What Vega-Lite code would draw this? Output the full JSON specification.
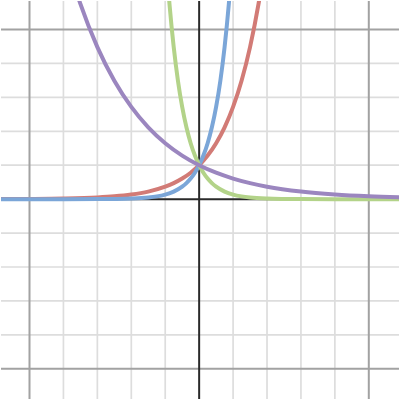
{
  "$schema": "https://vega.github.io/schema/vega-lite/v6.json",
  "width": 400,
  "height": 400,
  "autosize": {"type": "fit", "contains": "padding"},
  "padding": 0,
  "background": "white",
  "config": {"view": {"stroke": null}},
  "datasets": {
    "grid": [
      {"v": -5, "kind": "major"}, {"v": -4, "kind": "minor"}, {"v": -3, "kind": "minor"},
      {"v": -2, "kind": "minor"}, {"v": -1, "kind": "minor"}, {"v": 0, "kind": "axis"},
      {"v": 1, "kind": "minor"}, {"v": 2, "kind": "minor"}, {"v": 3, "kind": "minor"},
      {"v": 4, "kind": "minor"}, {"v": 5, "kind": "major"}
    ],
    "curves": [
      {"f": "e^x", "x": -6, "y": 0.0025}, {"f": "e^x", "x": -5, "y": 0.0067},
      {"f": "e^x", "x": -4, "y": 0.0183}, {"f": "e^x", "x": -3, "y": 0.0498},
      {"f": "e^x", "x": -2.5, "y": 0.0821}, {"f": "e^x", "x": -2, "y": 0.1353},
      {"f": "e^x", "x": -1.5, "y": 0.2231}, {"f": "e^x", "x": -1, "y": 0.3679},
      {"f": "e^x", "x": -0.75, "y": 0.4724}, {"f": "e^x", "x": -0.5, "y": 0.6065},
      {"f": "e^x", "x": -0.25, "y": 0.7788}, {"f": "e^x", "x": 0, "y": 1},
      {"f": "e^x", "x": 0.25, "y": 1.284}, {"f": "e^x", "x": 0.5, "y": 1.6487},
      {"f": "e^x", "x": 0.75, "y": 2.117}, {"f": "e^x", "x": 1, "y": 2.7183},
      {"f": "e^x", "x": 1.25, "y": 3.4903}, {"f": "e^x", "x": 1.5, "y": 4.4817},
      {"f": "e^x", "x": 1.75, "y": 5.7546}, {"f": "e^x", "x": 2, "y": 7.389},

      {"f": "e^(2x)", "x": -6, "y": 0}, {"f": "e^(2x)", "x": -4, "y": 0.0003},
      {"f": "e^(2x)", "x": -3, "y": 0.0025}, {"f": "e^(2x)", "x": -2.5, "y": 0.0067},
      {"f": "e^(2x)", "x": -2, "y": 0.0183}, {"f": "e^(2x)", "x": -1.5, "y": 0.0498},
      {"f": "e^(2x)", "x": -1.25, "y": 0.0821}, {"f": "e^(2x)", "x": -1, "y": 0.1353},
      {"f": "e^(2x)", "x": -0.75, "y": 0.2231}, {"f": "e^(2x)", "x": -0.5, "y": 0.3679},
      {"f": "e^(2x)", "x": -0.375, "y": 0.4724}, {"f": "e^(2x)", "x": -0.25, "y": 0.6065},
      {"f": "e^(2x)", "x": -0.125, "y": 0.7788}, {"f": "e^(2x)", "x": 0, "y": 1},
      {"f": "e^(2x)", "x": 0.125, "y": 1.284}, {"f": "e^(2x)", "x": 0.25, "y": 1.6487},
      {"f": "e^(2x)", "x": 0.375, "y": 2.117}, {"f": "e^(2x)", "x": 0.5, "y": 2.7183},
      {"f": "e^(2x)", "x": 0.625, "y": 3.4903}, {"f": "e^(2x)", "x": 0.75, "y": 4.4817},
      {"f": "e^(2x)", "x": 0.875, "y": 5.7546}, {"f": "e^(2x)", "x": 1, "y": 7.389},

      {"f": "e^(-2x)", "x": -1, "y": 7.389}, {"f": "e^(-2x)", "x": -0.875, "y": 5.7546},
      {"f": "e^(-2x)", "x": -0.75, "y": 4.4817}, {"f": "e^(-2x)", "x": -0.625, "y": 3.4903},
      {"f": "e^(-2x)", "x": -0.5, "y": 2.7183}, {"f": "e^(-2x)", "x": -0.375, "y": 2.117},
      {"f": "e^(-2x)", "x": -0.25, "y": 1.6487}, {"f": "e^(-2x)", "x": -0.125, "y": 1.284},
      {"f": "e^(-2x)", "x": 0, "y": 1}, {"f": "e^(-2x)", "x": 0.125, "y": 0.7788},
      {"f": "e^(-2x)", "x": 0.25, "y": 0.6065}, {"f": "e^(-2x)", "x": 0.375, "y": 0.4724},
      {"f": "e^(-2x)", "x": 0.5, "y": 0.3679}, {"f": "e^(-2x)", "x": 0.75, "y": 0.2231},
      {"f": "e^(-2x)", "x": 1, "y": 0.1353}, {"f": "e^(-2x)", "x": 1.25, "y": 0.0821},
      {"f": "e^(-2x)", "x": 1.5, "y": 0.0498}, {"f": "e^(-2x)", "x": 2, "y": 0.0183},
      {"f": "e^(-2x)", "x": 2.5, "y": 0.0067}, {"f": "e^(-2x)", "x": 3, "y": 0.0025},
      {"f": "e^(-2x)", "x": 4, "y": 0.0003}, {"f": "e^(-2x)", "x": 6, "y": 0},

      {"f": "e^(-x/2)", "x": -4, "y": 7.389}, {"f": "e^(-x/2)", "x": -3.5, "y": 5.7546},
      {"f": "e^(-x/2)", "x": -3, "y": 4.4817}, {"f": "e^(-x/2)", "x": -2.5, "y": 3.4903},
      {"f": "e^(-x/2)", "x": -2, "y": 2.7183}, {"f": "e^(-x/2)", "x": -1.5, "y": 2.117},
      {"f": "e^(-x/2)", "x": -1, "y": 1.6487}, {"f": "e^(-x/2)", "x": -0.5, "y": 1.284},
      {"f": "e^(-x/2)", "x": 0, "y": 1}, {"f": "e^(-x/2)", "x": 0.5, "y": 0.7788},
      {"f": "e^(-x/2)", "x": 1, "y": 0.6065}, {"f": "e^(-x/2)", "x": 1.5, "y": 0.4724},
      {"f": "e^(-x/2)", "x": 2, "y": 0.3679}, {"f": "e^(-x/2)", "x": 3, "y": 0.2231},
      {"f": "e^(-x/2)", "x": 4, "y": 0.1353}, {"f": "e^(-x/2)", "x": 5, "y": 0.0821},
      {"f": "e^(-x/2)", "x": 6, "y": 0.0498}
    ]
  },
  "layer": [
    {
      "data": {"name": "grid"},
      "transform": [{"filter": "datum.kind == 'minor'"}],
      "mark": {"type": "rule", "color": "#dddddd", "strokeWidth": 1.7},
      "encoding": {
        "x": {"field": "v", "type": "quantitative", "axis": null,
              "scale": {"domain": [-5.84, 5.89], "nice": false, "zero": false}}
      }
    },
    {
      "data": {"name": "grid"},
      "transform": [{"filter": "datum.kind == 'minor'"}],
      "mark": {"type": "rule", "color": "#dddddd", "strokeWidth": 1.7},
      "encoding": {
        "y": {"field": "v", "type": "quantitative", "axis": null,
              "scale": {"domain": [-5.89, 5.84], "nice": false, "zero": false}}
      }
    },
    {
      "data": {"name": "grid"},
      "transform": [{"filter": "datum.kind == 'major'"}],
      "mark": {"type": "rule", "color": "#a2a2a2", "strokeWidth": 2},
      "encoding": {
        "x": {"field": "v", "type": "quantitative", "axis": null}
      }
    },
    {
      "data": {"name": "grid"},
      "transform": [{"filter": "datum.kind == 'major'"}],
      "mark": {"type": "rule", "color": "#a2a2a2", "strokeWidth": 2},
      "encoding": {
        "y": {"field": "v", "type": "quantitative", "axis": null}
      }
    },
    {
      "data": {"name": "grid"},
      "transform": [{"filter": "datum.kind == 'axis'"}],
      "mark": {"type": "rule", "color": "#2a2a2a", "strokeWidth": 2},
      "encoding": {
        "x": {"field": "v", "type": "quantitative", "axis": null}
      }
    },
    {
      "data": {"name": "grid"},
      "transform": [{"filter": "datum.kind == 'axis'"}],
      "mark": {"type": "rule", "color": "#2a2a2a", "strokeWidth": 2},
      "encoding": {
        "y": {"field": "v", "type": "quantitative", "axis": null}
      }
    },
    {
      "data": {"name": "curves"},
      "mark": {"type": "line", "clip": true, "strokeWidth": 4, "interpolate": "monotone"},
      "encoding": {
        "x": {"field": "x", "type": "quantitative", "axis": null},
        "y": {"field": "y", "type": "quantitative", "axis": null},
        "color": {
          "field": "f", "type": "nominal", "legend": null,
          "scale": {
            "domain": ["e^x", "e^(2x)", "e^(-2x)", "e^(-x/2)"],
            "range": ["#d27b76", "#7ba6d8", "#b3d389", "#9b86bf"]
          }
        }
      }
    }
  ]
}
